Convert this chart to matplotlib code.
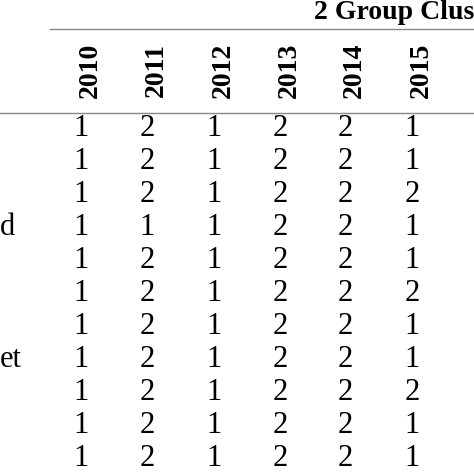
import matplotlib.pyplot as plt
from matplotlib.lines import Line2D

plt.rcParams['font.family'] = ['Liberation Serif', 'DejaVu Serif']

header = '2 Group Clus'
years = ['2010', '2011', '2012', '2013', '2014', '2015']
row_labels = ['', '', '', 'd', '', '', '', 'et', '', '', '']
values = [
    [1, 2, 1, 2, 2, 1],
    [1, 2, 1, 2, 2, 1],
    [1, 2, 1, 2, 2, 2],
    [1, 1, 1, 2, 2, 1],
    [1, 2, 1, 2, 2, 1],
    [1, 2, 1, 2, 2, 2],
    [1, 2, 1, 2, 2, 1],
    [1, 2, 1, 2, 2, 1],
    [1, 2, 1, 2, 2, 2],
    [1, 2, 1, 2, 2, 1],
    [1, 2, 1, 2, 2, 1],
]

W = H = 474
fig = plt.figure(figsize=(W / 100, H / 100), dpi=100)
ax = fig.add_axes([0, 0, 1, 1])
ax.set_xlim(0, W)
ax.set_ylim(H, 0)
ax.axis('off')

col_x = [90, 156, 223, 289, 354, 421]
ax.text(474, 12, header, ha='right', va='center', fontsize=20, fontweight='bold')
ax.add_line(Line2D([50, 474], [29, 29], color='#888888', lw=1))
for x, y in zip(col_x, years):
    ax.text(x, 70, y, ha='center', va='center', rotation=90, fontsize=20, fontweight='bold')
ax.add_line(Line2D([0, 474], [113, 113], color='#888888', lw=1))

y0, dy = 128, 33.1
for i, row in enumerate(values):
    y = y0 + i * dy
    ax.text(0, y, row_labels[i], ha='left', va='center', fontsize=22)
    for x, v in zip(col_x, row):
        ax.text(x - 9, y, str(v), ha='center', va='center', fontsize=22)

fig.savefig('out.png', dpi=100)
